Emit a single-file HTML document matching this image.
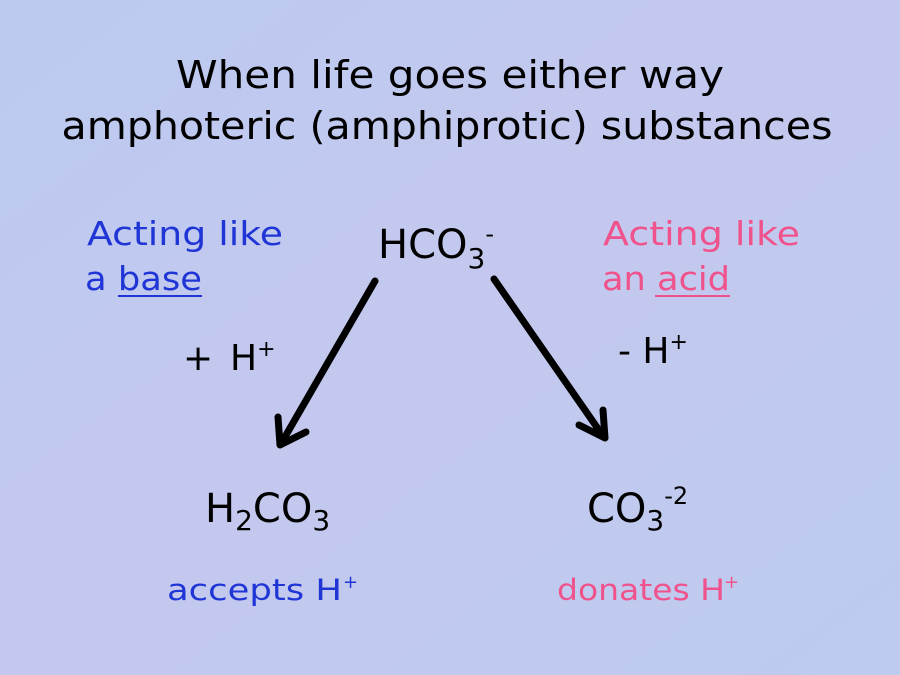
<!DOCTYPE html>
<html><head><style>
html,body{margin:0;padding:0;}
body{width:900px;height:675px;overflow:hidden;background:#bfcaee;}
svg{display:block}
text{font-family:"DejaVu Sans","Liberation Sans",sans-serif;}
</style></head><body>
<svg width="900" height="675" viewBox="0 0 900 675">
<defs>
<linearGradient id="g" x1="0" y1="0" x2="1" y2="1">
<stop offset="0" stop-color="#bccaf0"/>
<stop offset="0.5" stop-color="#c4c8ee"/>
<stop offset="1" stop-color="#bccbee"/>
</linearGradient>
</defs>
<rect width="900" height="675" fill="url(#g)"/>
<g fill="#000">
<text x="450" y="88" font-size="38" text-anchor="middle" textLength="548" lengthAdjust="spacingAndGlyphs">When life goes either way</text>
<text x="447" y="139" font-size="38" text-anchor="middle" textLength="771" lengthAdjust="spacingAndGlyphs">amphoteric (amphiprotic) substances</text>
</g>
<g fill="#1f35d6" font-size="33">
<text x="87" y="245" textLength="196" lengthAdjust="spacingAndGlyphs">Acting like</text>
<text x="85" y="290" textLength="117" lengthAdjust="spacingAndGlyphs">a base</text>
</g>
<line x1="118" y1="296" x2="202" y2="296" stroke="#1f35d6" stroke-width="2"/>
<g fill="#f0528c" font-size="33">
<text x="603" y="245" textLength="197" lengthAdjust="spacingAndGlyphs">Acting like</text>
<text x="602" y="290" textLength="128" lengthAdjust="spacingAndGlyphs">an acid</text>
</g>
<line x1="655" y1="296" x2="730" y2="296" stroke="#f0528c" stroke-width="2"/>
<g fill="#000" font-size="40">
<text x="378" y="258">HCO<tspan font-size="28" dy="10">3</tspan><tspan font-size="24" dy="-26">-</tspan></text>
<text x="183" y="370" font-size="36">+ <tspan x="230">H</tspan><tspan font-size="22" dy="-14">+</tspan></text>
<text x="618" y="363" font-size="36">- H<tspan font-size="22" dy="-14">+</tspan></text>
<text x="205" y="522">H<tspan font-size="28" dy="8">2</tspan><tspan dy="-8">CO</tspan><tspan font-size="28" dy="8">3</tspan></text>
<text x="587" y="522">CO<tspan font-size="28" dy="8">3</tspan><tspan font-size="24" dy="-26">-2</tspan></text>
</g>
<g stroke="#000" stroke-width="7" stroke-linecap="round" fill="none">
<line x1="375" y1="281" x2="282" y2="442"/>
<polyline points="278,417 280,445 306,432" stroke-linejoin="round"/>
<line x1="494" y1="279" x2="603" y2="436"/>
<polyline points="579,425 605,438 603,410" stroke-linejoin="round"/>
</g>
<text x="167" y="600" font-size="29" fill="#1f35d6" textLength="175" lengthAdjust="spacingAndGlyphs">accepts H</text>
<text x="343" y="588" font-size="18" fill="#1f35d6">+</text>
<text x="557" y="600" font-size="29" fill="#f0528c" textLength="168" lengthAdjust="spacingAndGlyphs">donates H</text>
<text x="724" y="588" font-size="18" fill="#f0528c">+</text>
</svg>
</body></html>
